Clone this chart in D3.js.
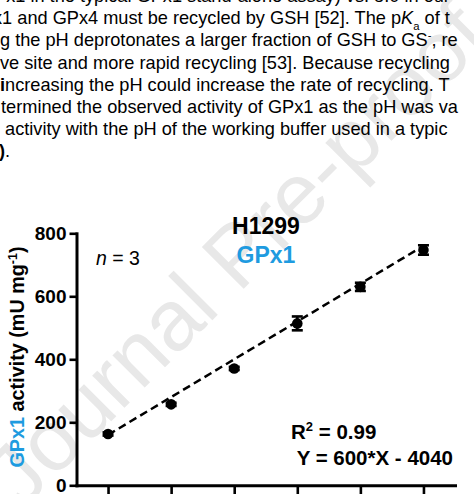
<!doctype html>
<html>
  <head>
    <meta charset="utf-8">
    <script src="https://d3js.org/d3.v7.min.js"></script>
    <style>
      body { margin: 0; background: #fff; }
      svg { display: block; }
    </style>
  </head>
  <body>
    <script>
    // chart values
    var phValues = [7.0, 7.2, 7.4, 7.6, 7.8, 8.0];
    var activity = [163, 257, 371, 514, 630, 747];
    var activityErr = [5, 5, 5, 22, 13, 15];
    var yTicks = [0, 200, 400, 600, 800];
    var xTicks = [7.0, 7.2, 7.4, 7.6, 7.8, 8.0];
    var fitSlope = 600;
    var fitIntercept = -4040;
    var rSquared = "0.99";
    var sampleSize = 3;
    var cellLine = "H1299";
    var enzyme = "GPx1";

    // body text above the figure (cropped page)
    var paragraphLines = [
      "Px1 in the typical GPx1 stand-alone assay) vs. 8.0 in our",
      "x1 and GPx4 must be recycled by GSH [52]. The p<i>K</i><sub>a</sub> of t",
      "g the pH deprotonates a larger fraction of GSH to GS<sup>-</sup>, re",
      "ve site and more rapid recycling [53]. Because recycling",
      "<b>i</b>ncreasing the pH could increase the rate of recycling. T",
      "termined the observed activity of GPx1 as the pH was va",
      " activity with the pH of the working buffer used in a typic",
      "<b>)</b>."
    ];

    var width = 474;
    var height = 494;
    var blue = "#1e9be0";
    var font = "'Liberation Sans', Arial, Helvetica, sans-serif";

    var svg = d3.select("body")
              .append("svg")
              .attr("width", width)
              .attr("height", height)
              .style("font-family", font);

    // watermark
    svg.append("text")
      .attr("transform", "translate(236,254) rotate(-45)")
      .attr("text-anchor", "middle")
      .attr("dominant-baseline", "central")
      .attr("fill", "#e8e8e8")
      .style("font-size", "86px")
      .text("Journal Pre-proof");

    // tiny markup -> tspans
    function richText(sel, str, size) {
      var parts = str.split(/(<\/?\w+>)/);
      var state = {i: false, b: false, sub: false, sup: false};
      var shift = 0;
      parts.forEach(function(p) {
        if (p === "") return;
        var m = p.match(/^<(\/?)(\w+)>$/);
        if (m) { state[m[2]] = !m[1]; return; }
        var target = state.sub ? size * 0.3 : (state.sup ? -size * 0.4 : 0);
        sel.append("tspan")
          .attr("dy", target - shift)
          .style("font-style", state.i ? "italic" : "normal")
          .style("font-weight", state.b ? "bold" : "normal")
          .style("font-size", (state.sub || state.sup) ? (size * 0.62) + "px" : size + "px")
          .text(p);
        shift = target;
      });
    }

    var lineX = [-6, -7, 0, 0, 0, 1, 0, -1];
    var bodySize = 18.2;
    paragraphLines.forEach(function(line, i) {
      var t = svg.append("text")
        .attr("x", lineX[i])
        .attr("y", 2 + i * 22.2)
        .attr("fill", "#000")
        .style("font-size", bodySize + "px")
        .style("white-space", "pre");
      richText(t, line, bodySize);
    });

    // scales
    var x = d3.scaleLinear()
              .domain([6.9, 8.1])
              .range([76.5, 455]);

    var y = d3.scaleLinear()
              .domain([0, 800])
              .range([485.3, 233.3]);

    var yAxis = d3.axisLeft(y)
                  .tickValues(yTicks)
                  .tickSize(7)
                  .tickSizeOuter(0)
                  .tickPadding(3);

    var xAxis = d3.axisBottom(x)
                  .tickValues(xTicks)
                  .tickSize(10)
                  .tickSizeOuter(0)
                  .tickFormat(d3.format(".1f"));

    var gy = svg.append("g")
      .attr("transform", "translate(76.5,0)")
      .call(yAxis);

    var gx = svg.append("g")
      .attr("transform", "translate(0,485.3)")
      .call(xAxis);

    [gx, gy].forEach(function(g) {
      g.select(".domain")
        .attr("stroke", "#000")
        .attr("stroke-width", 3)
        .attr("stroke-linecap", "square");
      g.selectAll(".tick line")
        .attr("stroke", "#000")
        .attr("stroke-width", 2.6);
      g.selectAll(".tick text")
        .attr("fill", "#000")
        .style("font-family", font)
        .style("font-weight", "bold")
        .style("font-size", "19px");
    });

    // regression line
    var fit = d3.line()
                .x(function(d) { return x(d); })
                .y(function(d) { return y(fitSlope * d + fitIntercept); });

    svg.append("path")
      .datum(d3.extent(phValues))
      .attr("fill", "none")
      .attr("stroke", "#000")
      .attr("stroke-width", 2.5)
      .attr("stroke-dasharray", "8,4.5")
      .attr("d", fit);

    var points = phValues.map(function(p, i) {
      return {ph: p, v: activity[i], e: activityErr[i]};
    });

    // error bars
    var bars = svg.selectAll(".err")
      .data(points)
      .enter()
      .append("g")
        .attr("class", "err")
        .attr("stroke", "#000")
        .attr("stroke-width", 2.6);

    bars.append("line")
      .attr("x1", function(d) { return x(d.ph); })
      .attr("x2", function(d) { return x(d.ph); })
      .attr("y1", function(d) { return y(d.v - d.e); })
      .attr("y2", function(d) { return y(d.v + d.e); });

    [1, -1].forEach(function(s) {
      bars.append("line")
        .attr("x1", function(d) { return x(d.ph) - 5.5; })
        .attr("x2", function(d) { return x(d.ph) + 5.5; })
        .attr("y1", function(d) { return y(d.v + s * d.e); })
        .attr("y2", function(d) { return y(d.v + s * d.e); });
    });

    svg.selectAll(".pt")
      .data(points)
      .enter()
      .append("circle")
        .attr("class", "pt")
        .attr("fill", "#000")
        .attr("cx", function(d) { return x(d.ph); })
        .attr("cy", function(d) { return y(d.v); })
        .attr("r", 5.3);

    // labels
    svg.append("text")
      .attr("x", 266)
      .attr("y", 234)
      .attr("text-anchor", "middle")
      .style("font-weight", "bold")
      .style("font-size", "23px")
      .text(cellLine);

    svg.append("text")
      .attr("x", 266)
      .attr("y", 263)
      .attr("text-anchor", "middle")
      .attr("fill", blue)
      .style("font-weight", "bold")
      .style("font-size", "23px")
      .text(enzyme);

    var nText = svg.append("text")
      .attr("x", 96)
      .attr("y", 265)
      .style("font-size", "19.5px");
    nText.append("tspan").style("font-style", "italic").text("n");
    nText.append("tspan").text(" = " + sampleSize);

    var r2 = svg.append("text")
      .attr("x", 291)
      .attr("y", 439)
      .style("font-weight", "bold")
      .style("font-size", "20.5px");
    r2.append("tspan").text("R");
    r2.append("tspan").attr("dy", -8).style("font-size", "13px").text("2");
    r2.append("tspan").attr("dy", 8).text(" = " + rSquared);

    svg.append("text")
      .attr("x", 453)
      .attr("y", 465)
      .attr("text-anchor", "end")
      .style("font-weight", "bold")
      .style("font-size", "20.5px")
      .text("Y = " + fitSlope + "*X - " + Math.abs(fitIntercept));

    // y axis title
    var yTitle = svg.append("text")
      .attr("transform", "translate(24,357) rotate(-90)")
      .attr("text-anchor", "middle")
      .style("font-weight", "bold")
      .style("font-size", "19.8px");
    yTitle.append("tspan").attr("fill", blue).text(enzyme);
    yTitle.append("tspan").text(" activity (mU mg");
    yTitle.append("tspan").attr("dy", -7).style("font-size", "12.5px").text("-1");
    yTitle.append("tspan").attr("dy", 7).text(")");
    </script>
  </body>
</html>
